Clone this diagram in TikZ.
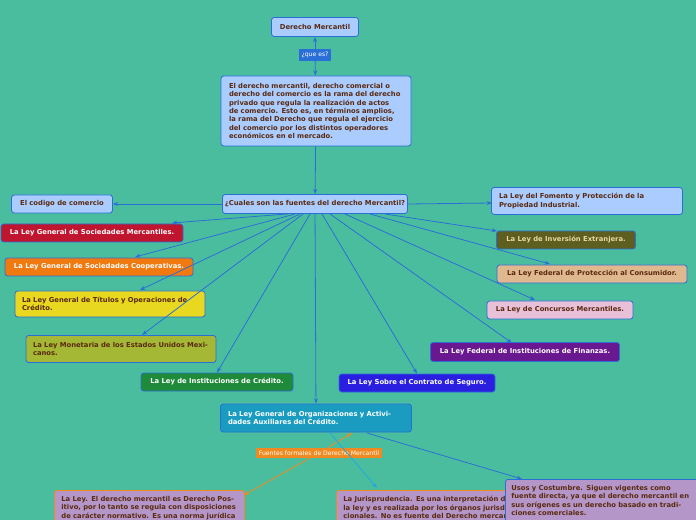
\documentclass[tikz,border=0pt]{standalone}
\usepackage{fontspec}
\setmainfont{DejaVu Sans}
\usetikzlibrary{arrows.meta}
\newdimen\px \px=0.75pt
\definecolor{bg}{HTML}{4BBD9F}
\definecolor{lb}{HTML}{AACCFF}
\definecolor{bd}{HTML}{2A6FD6}
\definecolor{tx}{HTML}{5A2A10}
\definecolor{cred}{HTML}{C0152F}
\definecolor{corg}{HTML}{F07A10}
\definecolor{cyel}{HTML}{E8D820}
\definecolor{coli}{HTML}{A4B836}
\definecolor{cgrn}{HTML}{1F8A3A}
\definecolor{cblu}{HTML}{2A1EE0}
\definecolor{ccya}{HTML}{1A9CC0}
\definecolor{cdol}{HTML}{5E5E1E}
\definecolor{cdtx}{HTML}{E8D8A0}
\definecolor{ctan}{HTML}{E0B890}
\definecolor{cpnk}{HTML}{E8C0D8}
\definecolor{cpur}{HTML}{6A1890}
\definecolor{cff}{HTML}{F08A20}
\definecolor{clav}{HTML}{B496C8}
\definecolor{clbl}{HTML}{20A8E0}
\begin{document}
\begin{tikzpicture}[x=0.75pt,y=-0.75pt,
 every node/.style={font=\bfseries\fontsize{5.1}{6.3}\selectfont},
 bx/.style={draw=bd,fill=lb,text=tx,rounded corners=2pt,line width=0.6pt,inner sep=0pt,align=left},
 cl/.style={bx,fill=#1,text=white},
 ar/.style={draw=bd,line width=0.6pt,-{Stealth[length=4pt,width=3pt]}},
 pu/.style={bx,fill=clav,draw=cff,anchor=north west,text width=176\px,inner xsep=7\px,inner ysep=6\px,minimum width=190\px}]
\fill[bg] (0,0) rectangle (696,520);
\clip (0,0) rectangle (696,520);
\node[bx,minimum width=87\px,minimum height=19\px,align=center] (dm) at (315,27) {Derecho Mercantil};
\node[fill=bd,text=white,inner sep=2pt,font=\fontsize{4.6}{5}\selectfont] (q) at (315,55) {¿que es?};
\node[bx,minimum width=190\px,minimum height=70\px,text width=174\px] (def) at (316,111) {El derecho mercantil, derecho comercial o derecho del comercio es la rama del derecho privado que regula la realización de actos de comercio. Esto es, en términos amplios, la rama del Derecho que regula el ejercicio del comercio por los distintos operadores económicos en el mercado.};
\node[bx,minimum width=185\px,minimum height=19\px,align=center] (c) at (315,204) {¿Cuales son las fuentes del derecho Mercantil?};
\node[bx,minimum width=101\px,minimum height=18\px,align=center] (cod) at (62,204) {El codigo de comercio};
\node[cl=cred,minimum width=182\px,minimum height=18\px,align=center] (sm) at (92,233) {La Ley General de Sociedades Mercantiles.};
\node[cl=corg,minimum width=188\px,minimum height=18\px,align=center] (sc) at (99,267) {La Ley General de Sociedades Cooperativas.};
\node[bx,fill=cyel,minimum width=190\px,minimum height=26\px,text width=176\px] (ti) at (110,304) {La Ley General de Títulos y Operaciones de Crédito.};
\node[bx,fill=coli,minimum width=190\px,minimum height=27\px,text width=176\px] (mo) at (121,349) {La Ley Monetaria de los Estados Unidos Mexicanos.};
\node[cl=cgrn,minimum width=152\px,minimum height=18\px,align=center] (ic) at (217,382) {La Ley de Instituciones de Crédito.};
\node[cl=cblu,minimum width=156\px,minimum height=18\px,align=center] (se) at (417,383) {La Ley Sobre el Contrato de Seguro.};
\node[cl=ccya,minimum width=191\px,minimum height=28\px,text width=176\px] (or) at (316,418) {La Ley General de Organizaciones y Actividades Auxiliares del Crédito.};
\node[bx,minimum width=191\px,minimum height=27\px,text width=176\px] (fo) at (587,201) {La Ley del Fomento y Protección de la Propiedad Industrial.};
\node[bx,fill=cdol,text=cdtx,minimum width=139\px,minimum height=18\px,align=center] (ie) at (566,240) {La Ley de Inversión Extranjera.};
\node[bx,fill=ctan,minimum width=190\px,minimum height=18\px,align=center] (pc) at (592,274) {La Ley Federal de Protección al Consumidor.};
\node[bx,fill=cpnk,minimum width=146\px,minimum height=18\px,align=center] (cm) at (560,310) {La Ley de Concursos Mercantiles.};
\node[cl=cpur,minimum width=189\px,minimum height=19\px,align=center] (fi) at (525,352) {La Ley Federal de Instituciones de Finanzas.};
\node[fill=cff,text=white,inner sep=2pt,font=\fontsize{4.6}{5}\selectfont] (ff) at (319,453) {Fuentes formales de Derecho Mercantil};
\node[pu] (ley) at (54,490) {La Ley. El derecho mercantil es Derecho Positivo, por lo tanto se regula con disposiciones de carácter normativo. Es una norma jurídica};
\node[pu] (ju) at (336,490) {La Jurisprudencia. Es una interpretación de la ley y es realizada por los órganos jurisdiccionales. No es fuente del Derecho mercantil};
\node[pu,draw=bd,text width=184\px,inner xsep=6\px] (us) at (505,479) {Usos y Costumbre. Siguen vigentes como fuente directa, ya que el derecho mercantil en sus orígenes es un derecho basado en tradiciones comerciales.};
\draw[ar,{Stealth[length=4pt,width=3pt]}-] (dm) -- (q);
\draw[ar] (q) -- (def);
\draw[ar] (def) -- (c);
\draw[ar] (c) -- (cod);
\coordinate (e1) at (172,223); \draw[ar] (c.200) -- (e1);
\coordinate (e2) at (135,257); \draw[ar] (295,214) -- (e2);
\coordinate (e3) at (140,290); \draw[ar] (300,214) -- (e3);
\coordinate (e4) at (142,335); \draw[ar] (303,214) -- (e4);
\draw[ar] (310,214) -- (ic.north);
\draw[ar] (c) -- (or);
\draw[ar] (322,214) -- (se.north);
\coordinate (e5) at (492,203); \draw[ar] (c.east) -- (e5);
\coordinate (e6) at (497,231); \draw[ar] (385,214) -- (e6);
\coordinate (e7) at (550,264); \draw[ar] (370,214) -- (e7);
\coordinate (e8) at (535,300); \draw[ar] (345,214) -- (e8);
\coordinate (e9) at (512,343); \draw[ar] (330,214) -- (e9);
\coordinate (o1) at (352,433); \draw[draw=cff,line width=0.6pt,-{Stealth[length=4pt,width=3pt]}] (ff) -- (o1);
\coordinate (o2) at (244,495); \draw[draw=cff,line width=0.6pt,-{Stealth[length=4pt,width=3pt]}] (ff) -- (o2);
\coordinate (o3) at (377,488); \draw[ar,draw=clbl] (330,433) -- (o3);
\coordinate (o4) at (522,479); \draw[ar] (367,433) -- (o4);
\end{tikzpicture}
\end{document}
